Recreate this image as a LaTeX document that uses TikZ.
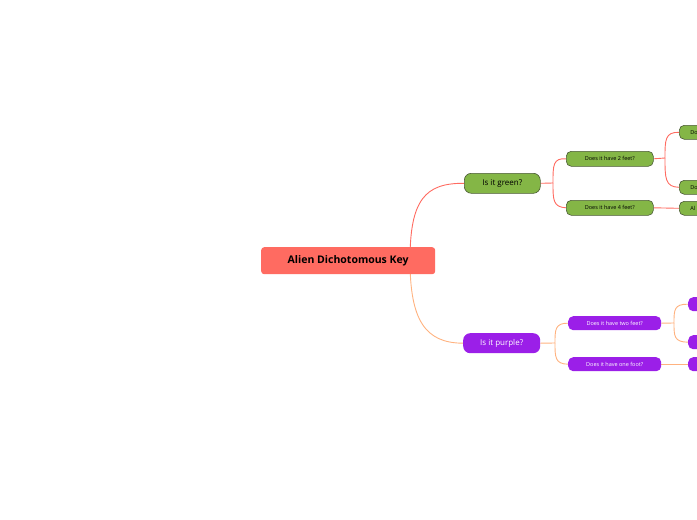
\documentclass[tikz,border=0pt]{standalone}
\usepackage{fontspec}
\setmainfont{Open Sans}
\usetikzlibrary{backgrounds}
\definecolor{rootc}{HTML}{FF6B61}
\definecolor{grn}{HTML}{84B646}
\definecolor{grnb}{HTML}{4A5A35}
\definecolor{pur}{HTML}{9B1FE8}
\definecolor{orl}{HTML}{FFB27F}
\tikzset{
 base/.style={rounded corners=5pt,inner sep=0pt,anchor=north west},
 gnode/.style={base,fill=grn,draw=grnb,line width=0.6pt,text=black},
 pnode/.style={base,fill=pur,text=white},
 redl/.style={draw=rootc,line width=0.9pt},
 orl/.style={draw=orl,line width=0.9pt},
}
\begin{document}
\begin{tikzpicture}[x=1pt,y=-1pt]
\useasboundingbox (0,0) rectangle (697,520);
\clip (0,0) rectangle (697,520);
\node[base,fill=rootc,minimum width=174pt,minimum height=27pt,font=\bfseries\fontsize{10.5}{12}\selectfont,rounded corners=3pt] (root) at (261,247) {Alien Dichotomous Key};
\node[gnode,minimum width=76pt,minimum height=20pt,font=\fontsize{8}{10}\selectfont,rounded corners=7pt] (g) at (464,173) {Is it green?};
\node[pnode,minimum width=77pt,minimum height=20pt,font=\fontsize{8}{10}\selectfont,rounded corners=7pt] (p) at (463,333) {Is it purple?};
\node[gnode,minimum width=87pt,minimum height=15pt,font=\fontsize{5.5}{7}\selectfont] (g1) at (566,151) {Does it have 2 feet?};
\node[gnode,minimum width=87pt,minimum height=15pt,font=\fontsize{5.5}{7}\selectfont] (g2) at (566,200) {Does it have 4 feet?};
\node[pnode,minimum width=93pt,minimum height=14pt,font=\fontsize{5.5}{7}\selectfont] (p1) at (568,316) {Does it have two feet?};
\node[pnode,minimum width=93pt,minimum height=14pt,font=\fontsize{5.5}{7}\selectfont] (p2) at (568,357) {Does it have one foot?};
\node[gnode,minimum width=60pt,minimum height=14pt,font=\fontsize{5.5}{7}\selectfont,text width=50pt,align=left] (g11) at (679,125) {\hspace*{6pt}Do};
\node[gnode,minimum width=60pt,minimum height=14pt,font=\fontsize{5.5}{7}\selectfont,text width=50pt,align=left] (g12) at (679,180) {\hspace*{6pt}Do};
\node[gnode,minimum width=60pt,minimum height=14pt,font=\fontsize{5.5}{7}\selectfont,text width=50pt,align=left] (g21) at (679,201) {\hspace*{6pt}Al};
\node[pnode,minimum width=60pt,minimum height=14pt] (p11) at (688,297) {};
\node[pnode,minimum width=60pt,minimum height=14pt] (p12) at (688,335) {};
\node[pnode,minimum width=60pt,minimum height=14pt] (p21) at (688,357) {};
\begin{scope}[on background layer]
\coordinate (r0) at (410,260);
\coordinate (gj) at (553,183);
\coordinate (pj) at (555,343);
\coordinate (g1j) at (665,158);
\coordinate (p1j) at (674,323);
\draw[redl] (r0) .. controls (410,200) and (425,183) .. (g.west);
\draw[orl] (r0) .. controls (410,320) and (425,343) .. (p.west);
\draw[redl] (g.east) -- (gj) .. controls (553,165) and (553,158) .. (g1.west);
\draw[redl] (gj) .. controls (553,200) and (553,207) .. (g2.west);
\draw[redl] (g1.east) -- (g1j) .. controls (665,140) and (665,132) .. (g11.west);
\draw[redl] (g1j) .. controls (665,178) and (665,187) .. (g12.west);
\draw[redl] (g2.east) -- (g21.west);
\draw[orl] (p.east) -- (pj) .. controls (555,330) and (555,323) .. (p1.west);
\draw[orl] (pj) .. controls (555,357) and (555,364) .. (p2.west);
\draw[orl] (p1.east) -- (p1j) .. controls (674,310) and (674,304) .. (p11.west);
\draw[orl] (p1j) .. controls (674,336) and (674,342) .. (p12.west);
\draw[orl] (p2.east) -- (p21.west);
\end{scope}
\end{tikzpicture}
\end{document}
